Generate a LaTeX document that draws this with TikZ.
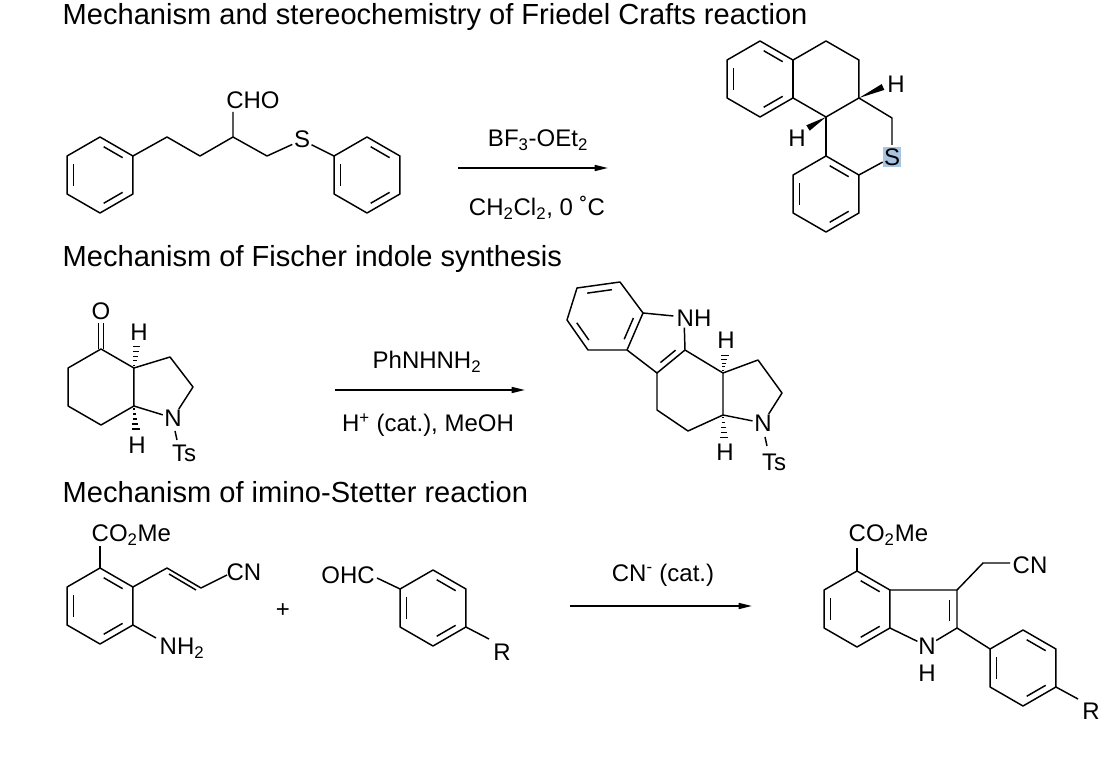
\documentclass[tikz,border=0pt]{standalone}
\usepackage{fontspec}
\setmainfont{Liberation Sans}
\usetikzlibrary{calc,arrows.meta}
\definecolor{shl}{RGB}{168,196,224}
\newcommand\hexr[3]{\coordinate (#1c) at (#2);\foreach \k in {1,...,6}{\coordinate (#1\k) at ($(#2)+({#3+60*(\k-1)}:38)$);}\draw (#11)--(#12)--(#13)--(#14)--(#15)--(#16)--cycle;}
\newcommand\dbl[4]{\coordinate (dbP) at ($(#3)!#4!(#1)$);\coordinate (dbQ) at ($(#3)!#4!(#2)$);\draw ($(dbP)!0.14!(dbQ)$) -- ($(dbQ)!0.14!(dbP)$);}
\newcommand\hashb[2]{\foreach \t in {0.12,0.32,0.52,0.72,0.92}{\draw[line width=0.8pt] ($(#1)!\t!(#2)+({-0.5-3.5*\t},0)$) -- ($(#1)!\t!(#2)+({0.5+3.5*\t},0)$);}}
\newcommand\wedgeb[2]{\fill (#1) -- ($(#2)!2.4pt!90:(#1)$) -- ($(#2)!2.4pt!-90:(#1)$) -- cycle;}
\tikzset{lab/.style={inner sep=0pt,font=\fontsize{18}{21}\selectfont},
 ttl/.style={inner sep=0pt,anchor=base west,font=\fontsize{21.8}{26}\selectfont},
 rxn/.style={-{Triangle[length=10pt,width=4.5pt]}}}
\begin{document}
\begin{tikzpicture}[x=0.75pt,y=-0.75pt,line width=1.1pt,line join=round]
\path[use as bounding box] (0,0) rectangle (1116,759);
\node[ttl] (t1) at (62,25) {Mechanism and stereochemistry of Friedel Crafts reaction};
\node[ttl] (t2) at (62,267) {Mechanism of Fischer indole synthesis};
\node[ttl] (t3) at (62,502) {Mechanism of imino-Stetter reaction};
% ---------- reaction 1
\hexr{a}{100,175}{-90}
\dbl{a1}{a2}{ac}{0.8}\dbl{a3}{a4}{ac}{0.8}\dbl{a5}{a6}{ac}{0.8}
\coordinate (c1) at (167,137);\coordinate (c2) at (200,156);\coordinate (c3) at (233,137);
\coordinate (c4) at (233,112);\coordinate (c5) at (267,156);\coordinate (S1) at (302,140);
\node[lab] (cho) at (253,100) {CHO};
\node[lab] (s1) at (302,139) {S};
\hexr{b}{367,175}{-90}
\dbl{b1}{b2}{bc}{0.8}\dbl{b3}{b4}{bc}{0.8}\dbl{b5}{b6}{bc}{0.8}
\draw (a2)--(c1)--(c2)--(c3)--(c4);
\draw (c3)--(c5)--($(S1)!8pt!(c5)$);
\draw ($(S1)!8pt!(b6)$)--(b6);
\coordinate (ar1s) at (458,168);\coordinate (ar1e) at (608,168);
\draw[rxn] (ar1s)--(ar1e);
\node[lab] (r1a) at (538,140) {BF\textsubscript{3}-OEt\textsubscript{2}};
\node[lab] (r1b) at (537,208) {CH\textsubscript{2}Cl\textsubscript{2}, 0 ˚C};
% product 1
\hexr{d}{760,79}{-90}
\dbl{d1}{d2}{dc}{0.8}\dbl{d3}{d4}{dc}{0.8}\dbl{d5}{d6}{dc}{0.8}
\hexr{e}{826,79}{-90}
\hexr{f}{826,194}{-90}
\dbl{f1}{f2}{fc}{0.8}\dbl{f3}{f4}{fc}{0.8}\dbl{f5}{f6}{fc}{0.8}
\coordinate (t1c) at (892,118);\coordinate (S2) at (892,157);
\node[lab,fill=shl,inner sep=1pt] (s2) at (892,157) {S};
\draw (e3)--(t1c)--($(S2)!9pt!(t1c)$);
\draw ($(S2)!8pt!(f2)$)--(f2);
\draw (e4)--(f1);
\coordinate (h1) at (883,87);\coordinate (h2) at (808,128);
\wedgeb{e3}{h1}\wedgeb{e4}{h2}
\node[lab] (hh1) at (896,84) {H};
\node[lab] (hh2) at (797,138) {H};
% ---------- reaction 2
\hexr{g}{101,387}{-90}
\node[lab] (o1) at (101,311) {O};
\draw ($(g1)+(-2.5,0)$) -- ++(0,-26);
\draw ($(g1)+(2.5,0)$) -- ++(0,-26);
\coordinate (k1) at (170,357);\coordinate (k2) at (193,387);\coordinate (N1) at (173,418);
\node[lab] (n1) at (173,418) {N};
\draw (g2)--(k1)--(k2)--($(N1)!8pt!(k2)$);
\draw ($(N1)!8pt!(g3)$)--(g3);
\coordinate (nt1) at (175,431);\coordinate (nt2) at (177,440);
\draw (nt1)--(nt2);
\node[lab] (ts1) at (184,453) {Ts};
\coordinate (hg1) at (137,345);\coordinate (hg2) at (136,431);
\hashb{g2}{hg1}\hashb{g3}{hg2}
\node[lab] (hg1l) at (139,332) {H};
\node[lab] (hg2l) at (137,445) {H};
\coordinate (ar2s) at (335,390);\coordinate (ar2e) at (525,390);
\draw[rxn] (ar2s)--(ar2e);
\node[lab] (r2a) at (427,362) {PhNHNH\textsubscript{2}};
\node[lab] (r2b) at (428,425) {H\textsuperscript{+} (cat.), MeOH};
% product 2
\coordinate (p1) at (620,282);\coordinate (p2) at (643,313);\coordinate (p3) at (627,350);
\coordinate (p4) at (588,350);\coordinate (p5) at (567,320);\coordinate (p6) at (577,288);
\coordinate (pc) at (604,317);
\draw (p1)--(p2)--(p3)--(p4)--(p5)--(p6)--cycle;
\dbl{p6}{p1}{pc}{0.8}\dbl{p4}{p5}{pc}{0.8}\dbl{p2}{p3}{pc}{0.8}
\coordinate (N2) at (684,317);
\node[lab,anchor=west] (nh2) at (676,318) {NH};
\coordinate (q2) at (685,350);\coordinate (q3) at (657,373);\coordinate (qc) at (659,341);
\coordinate (q4) at (723,373);\coordinate (q5) at (723,415);\coordinate (q6) at (688,431);\coordinate (q7) at (657,410);
\draw ($(N2)!8pt!(p2)$)--(p2);
\draw ($(N2)!8pt!(q2)$)--(q2)--(q3)--(p3);
\dbl{q2}{q3}{qc}{0.75}
\draw (q2)--(q4)--(q5)--(q6)--(q7)--(q3);
\coordinate (r1) at (758,360);\coordinate (r2) at (782,393);\coordinate (N3) at (763,423);
\node[lab] (n3) at (763,423) {N};
\draw (q4)--(r1)--(r2)--($(N3)!8pt!(r2)$);
\draw ($(N3)!8pt!(q5)$)--(q5);
\coordinate (nt3) at (765,437);\coordinate (nt4) at (767,446);
\draw (nt3)--(nt4);
\node[lab] (ts2) at (774,462) {Ts};
\coordinate (hq1) at (725,354);\coordinate (hq2) at (724,439);
\hashb{q4}{hq1}\hashb{q5}{hq2}
\node[lab] (hq1l) at (726,340) {H};
\node[lab] (hq2l) at (725,452) {H};
% ---------- reaction 3
\hexr{m}{100,606}{-90}
\dbl{m1}{m2}{mc}{0.8}\dbl{m3}{m4}{mc}{0.8}\dbl{m5}{m6}{mc}{0.8}
\coordinate (m1t) at (100,546);
\draw (m1)--(m1t);
\node[lab,anchor=west] (co1) at (91,535) {CO\textsubscript{2}Me};
\coordinate (v1) at (167,568);\coordinate (v2) at (201,588);\coordinate (v3) at (227,575);
\draw (m2)--(v1)--(v2)--(v3);
\coordinate (v1b) at (169,574);\coordinate (v2b) at (196,590);
\draw (v1b)--(v2b);
\node[lab] (cn1) at (244,572) {CN};
\coordinate (m3t) at (156,638);
\draw (m3)--(m3t);
\node[lab,anchor=west] (nh2b) at (159,648) {NH\textsubscript{2}};
\node[lab] (plus) at (283,611) {+};
\node[lab] (ohc) at (348,575) {OHC};
\hexr{n}{433,608}{-90}
\dbl{n1}{n2}{nc}{0.8}\dbl{n3}{n4}{nc}{0.8}\dbl{n5}{n6}{nc}{0.8}
\coordinate (ohct) at (377,578);\coordinate (n3t) at (489,639);
\draw (ohct)--(n6);
\draw (n3)--(n3t);
\node[lab] (rr1) at (502,652) {R};
\coordinate (ar3s) at (570,606);\coordinate (ar3e) at (752,606);
\draw[rxn] (ar3s)--(ar3e);
\node[lab] (r3a) at (663,575) {CN\textsuperscript{-} (cat.)};
% product 3
\hexr{u}{857,609}{-90}
\dbl{u1}{u2}{uc}{0.8}\dbl{u3}{u4}{uc}{0.8}\dbl{u5}{u6}{uc}{0.8}
\coordinate (u1t) at (857,548);
\draw (u1)--(u1t);
\node[lab,anchor=west] (co2) at (848,535) {CO\textsubscript{2}Me};
\coordinate (w1) at (957,590);\coordinate (w2) at (957,628);\coordinate (N4) at (927,646);\coordinate (wc) at (924,616);
\node[lab] (n4) at (927,646) {N};
\node[lab] (hn4) at (927,673) {H};
\draw (u2)--(w1)--(w2)--($(N4)!8pt!(w2)$);
\draw ($(N4)!8pt!(u3)$)--(u3);
\dbl{w1}{w2}{wc}{0.78}
\coordinate (w3) at (983,563);\coordinate (w4) at (1010,563);
\draw (w1)--(w3)--(w4);
\node[lab,anchor=west] (cn2) at (1012,565) {CN};
\hexr{x}{1023,668}{-90}
\dbl{x1}{x2}{xc}{0.8}\dbl{x3}{x4}{xc}{0.8}\dbl{x5}{x6}{xc}{0.8}
\draw (w2)--(x6);
\coordinate (x3t) at (1078,699);
\draw (x3)--(x3t);
\node[lab] (rr2) at (1091,711) {R};
\end{tikzpicture}
\end{document}
